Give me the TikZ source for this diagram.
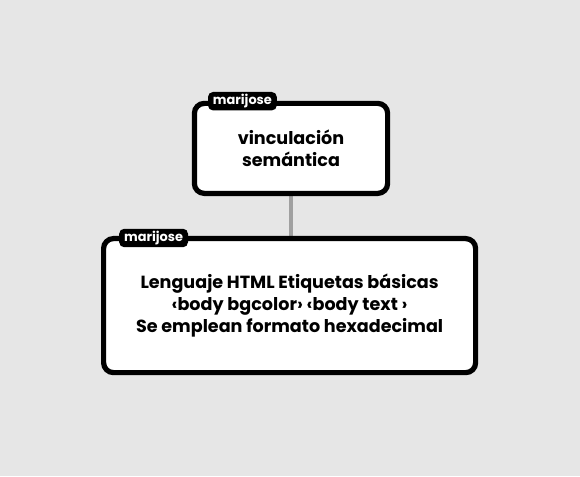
\documentclass[tikz,border=0pt]{standalone}
\usepackage{fontspec}
\setmainfont{Poppins}
\usetikzlibrary{positioning,calc,backgrounds}
\definecolor{canvasgray}{RGB}{230,230,230}
\definecolor{linkgray}{RGB}{160,160,160}

\begin{document}
\begin{tikzpicture}[
  topic/.style={draw=black,line width=3.7pt,fill=white,rounded corners=7pt,
                align=center,font=\fontsize{12.5}{15.5}\selectfont\bfseries},
  tag/.style={fill=black,text=white,rounded corners=3.5pt,inner sep=0pt,
              minimum width=1.72cm,minimum height=0.46cm,font=\fontsize{9.2}{10}\selectfont\bfseries},
  link/.style={draw=linkgray,line width=3.5pt}
]
  % Canvas
  \useasboundingbox (0,0) rectangle (14.5,-11.9);

  % Topics
  \node[topic,minimum width=4.83cm,minimum height=2.25cm] (semantica) at (7.275,-3.71)
    {vinculación\\semántica};
  \node[topic,minimum width=9.3cm,minimum height=3.35cm] (html) at (7.24,-7.64)
    {Lenguaje HTML Etiquetas básicas\\‹body bgcolor› ‹body text ›\\Se emplean formato hexadecimal};

  % Author tags
  \node[tag] (tagsemantica) at (6.06,-2.53) {marijose};
  \node[tag] (taghtml)      at (3.84,-5.95) {marijose};

  % Link and canvas behind
  \begin{scope}[on background layer]
    \fill[canvasgray] (0,0) rectangle (14.5,-11.9);
    \draw[link] (semantica.south) -- (semantica.south |- html.north);
  \end{scope}
\end{tikzpicture}
\end{document}
